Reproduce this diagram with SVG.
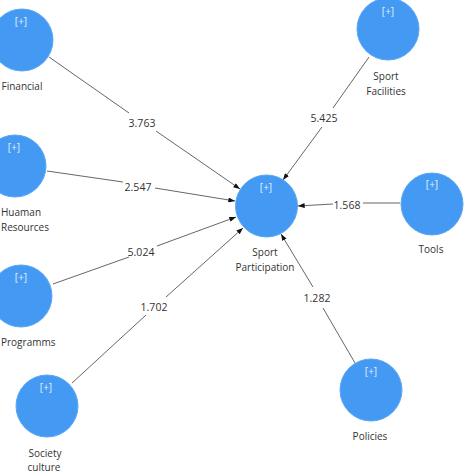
<svg xmlns="http://www.w3.org/2000/svg" width="474" height="474" viewBox="0 0 474 474">
<defs>
<style>
.n{fill:#4499f2;stroke:#5aa8f6;stroke-width:1}
.p{font-family:"Open Sans","Noto Sans",sans-serif;font-size:10px;fill:#e2f0ff;text-anchor:middle}
.l{font-family:"Open Sans","Noto Sans",sans-serif;font-size:10px;fill:#333;text-anchor:middle}
.ls{font-family:"Open Sans","Noto Sans",sans-serif;font-size:10px;fill:#333;text-anchor:start}
.e{stroke:#555;stroke-width:0.9;fill:none}
.w{font-family:"Open Sans","Noto Sans",sans-serif;font-size:10.5px;fill:#333;text-anchor:middle}
</style>
<marker id="a" viewBox="0 0 8 6" refX="8" refY="3" markerWidth="7" markerHeight="5" orient="auto" markerUnits="userSpaceOnUse">
<path d="M0,0 L8,3 L0,6 Z" fill="#111"/>
</marker>
</defs>
<rect width="474" height="474" fill="#fff"/>
<g id="connectors">
<line class="e" x1="49" y1="57" x2="129" y2="113"/>
<line class="e" x1="156" y1="131" x2="240" y2="189" marker-end="url(#a)"/>
<text class="w" x="142" y="127">3.763</text>
<line class="e" x1="47" y1="171" x2="123" y2="182"/>
<line class="e" x1="155" y1="188" x2="235" y2="201" marker-end="url(#a)"/>
<text class="w" x="138" y="191">2.547</text>
<line class="e" x1="53" y1="284" x2="129" y2="257"/>
<line class="e" x1="157" y1="246" x2="236" y2="217" marker-end="url(#a)"/>
<text class="w" x="141" y="256">5.024</text>
<line class="e" x1="72" y1="383" x2="146" y2="315"/>
<line class="e" x1="166" y1="297" x2="243" y2="228" marker-end="url(#a)"/>
<text class="w" x="154" y="311">1.702</text>
<line class="e" x1="369" y1="57" x2="333" y2="108"/>
<line class="e" x1="322" y1="127" x2="283" y2="180" marker-end="url(#a)"/>
<text class="w" x="324" y="122">5.425</text>
<line class="e" x1="400" y1="203" x2="363" y2="203"/>
<line class="e" x1="333" y1="204" x2="298" y2="206" marker-end="url(#a)"/>
<text class="w" x="347" y="209">1.568</text>
<line class="e" x1="355" y1="363" x2="323" y2="308"/>
<line class="e" x1="313" y1="287" x2="281" y2="234" marker-end="url(#a)"/>
<text class="w" x="317" y="302">1.282</text>
</g>
<g id="financial">
<circle class="n" cx="22" cy="40" r="31"/>
<text class="p" x="21" y="25">[+]</text>
<text class="l" x="22" y="90">Financial</text>
</g>
<g id="huaman-resources">
<circle class="n" cx="15" cy="166" r="31"/>
<text class="p" x="14" y="151">[+]</text>
<text class="ls" x="1" y="216">Huaman</text>
<text class="ls" x="1" y="231">Resources</text>
</g>
<g id="programms">
<circle class="n" cx="21" cy="296" r="31"/>
<text class="p" x="21" y="281">[+]</text>
<text class="ls" x="1" y="346">Programms</text>
</g>
<g id="society-culture">
<circle class="n" cx="47" cy="406" r="31"/>
<text class="p" x="46" y="391">[+]</text>
<text class="l" x="45" y="457">Society</text>
<text class="l" x="44" y="471">culture</text>
</g>
<g id="sport-participation">
<circle class="n" cx="266.5" cy="206" r="31"/>
<text class="p" x="266" y="191">[+]</text>
<text class="l" x="265" y="256">Sport</text>
<text class="l" x="265" y="271">Participation</text>
</g>
<g id="sport-facilities">
<circle class="n" cx="388" cy="29" r="31"/>
<text class="p" x="388" y="15">[+]</text>
<text class="l" x="386" y="80">Sport</text>
<text class="l" x="386" y="95">Facilities</text>
</g>
<g id="tools">
<circle class="n" cx="432" cy="204" r="31"/>
<text class="p" x="432" y="188">[+]</text>
<text class="l" x="431" y="253">Tools</text>
</g>
<g id="policies">
<circle class="n" cx="371" cy="390" r="31"/>
<text class="p" x="371" y="375">[+]</text>
<text class="l" x="370" y="440">Policies</text>
</g>
</svg>
